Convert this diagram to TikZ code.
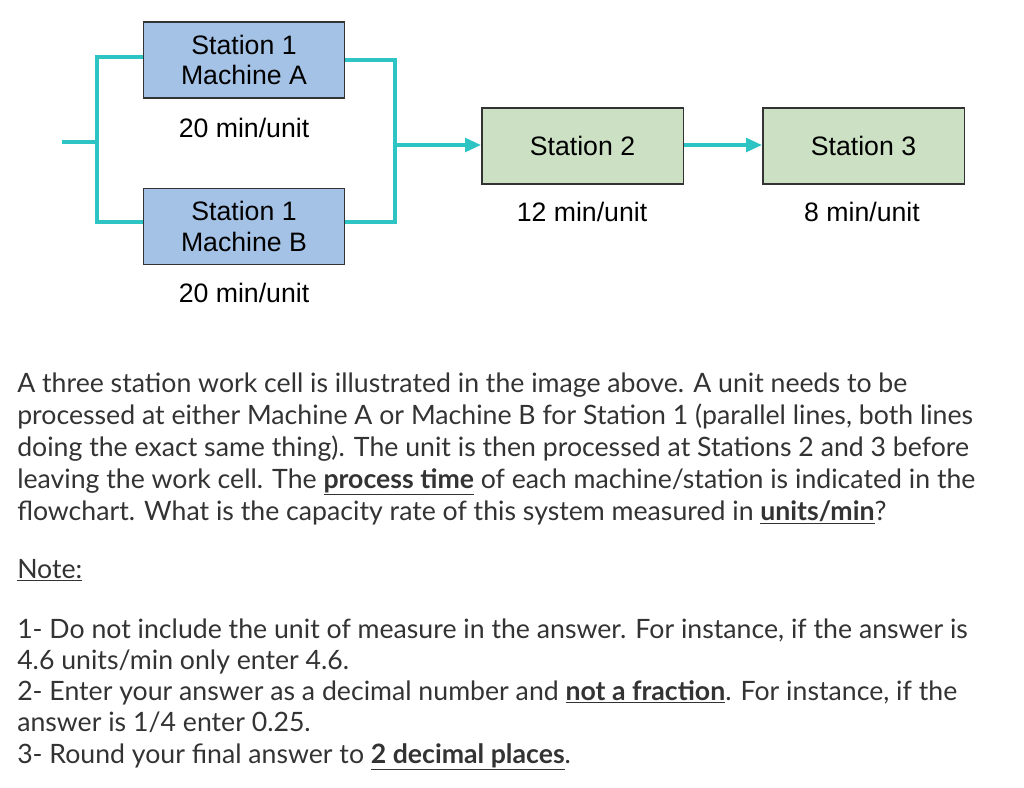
\documentclass[tikz,border=0pt]{standalone}
\usepackage{fontspec}
\setmainfont{Liberation Sans}
\newfontfamily\latofont{Lato}
\usetikzlibrary{arrows.meta}
\definecolor{boxblue}{HTML}{A4C2E6}
\definecolor{boxgreen}{HTML}{CCE0C4}
\definecolor{teal}{HTML}{2EC4C4}
\definecolor{txt}{HTML}{333333}
\tikzset{
  box/.style={draw=black!80, line width=1pt, minimum width=151pt, minimum height=57pt, font=\fontsize{20}{23}\selectfont, align=center, inner sep=0pt},
  lbl/.style={font=\fontsize{20}{23}\selectfont},
  conn/.style={draw=teal, line width=3pt},
  arr/.style={conn, -{Triangle[length=12pt,width=10pt]}},
  para/.style={anchor=base west, font=\latofont\fontsize{20}{24}\selectfont, text=txt, inner sep=0pt}
}
\begin{document}
\begin{tikzpicture}[x=0.75pt,y=-0.75pt]
\useasboundingbox (0,0) rectangle (1024,788);
\node[box, fill=boxblue] (ma) at (244,60) {Station 1\\Machine A};
\node[box, fill=boxblue] (mb) at (244,226.5) {Station 1\\Machine B};
\node[box, fill=boxgreen] (s2) at (582.5,146) {Station 2};
\node[box, fill=boxgreen] (s3) at (863.5,146) {Station 3};
\node[lbl] (la) at (244,128) {20 min/unit};
\node[lbl] (lb) at (244,293) {20 min/unit};
\node[lbl] (l2) at (582,212) {12 min/unit};
\node[lbl] (l3) at (862,212) {8 min/unit};
\coordinate (in) at (62,142);
\coordinate (split) at (97,142);
\coordinate (join) at (395,145);
\draw[conn] (in) -- (split);
\draw[conn] (ma.west |- 0,57) -| (split) |- (mb.west |- 0,222);
\draw[conn] (ma.east |- 0,60) -| (join) |- (mb.east |- 0,222);
\draw[arr] (join) -- (s2.west |- join);
\draw[arr] (s2.east |- join) -- (s3.west |- join);
\node[para] (p1) at (17,392) {A three station work cell is illustrated in the image above. A unit needs to be};
\node[para] (p2) at (17,424) {processed at either Machine A or Machine B for Station 1 (parallel lines, both lines};
\node[para] (p3) at (17,456) {doing the exact same thing). The unit is then processed at Stations 2 and 3 before};
\node[para] (p4) at (17,488) {leaving the work cell. The \underline{\textbf{process time}} of each machine/station is indicated in the};
\node[para] (p5) at (17,520) {flowchart. What is the capacity rate of this system measured in \underline{\textbf{units/min}}?};
\node[para] (n0) at (17,578) {\underline{Note:}};
\node[para] (n1) at (17,638) {1- Do not include the unit of measure in the answer. For instance, if the answer is};
\node[para] (n2) at (17,669) {4.6 units/min only enter 4.6.};
\node[para] (n3) at (17,700) {2- Enter your answer as a decimal number and \underline{\textbf{not a fraction}}. For instance, if the};
\node[para] (n4) at (17,731) {answer is 1/4 enter 0.25.};
\node[para] (n5) at (17,763) {3- Round your final answer to \underline{\textbf{2 decimal places}}.};
\end{tikzpicture}
\end{document}
